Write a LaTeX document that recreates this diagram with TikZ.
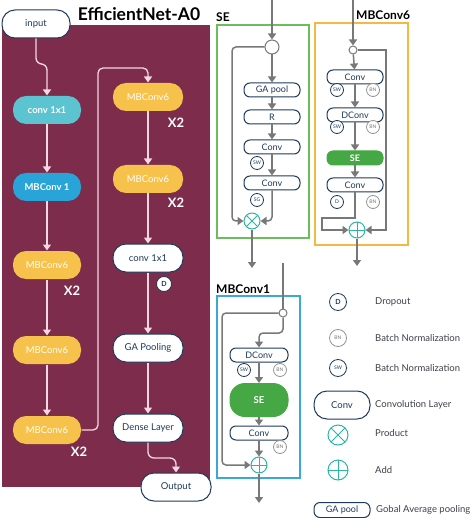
\documentclass[tikz,border=0pt]{standalone}
\usepackage{fontspec}
\setmainfont{Lato}
\usetikzlibrary{arrows.meta}

\definecolor{panelred}{HTML}{7E2C4B}
\definecolor{flowpink}{HTML}{F3D8E2}
\definecolor{navy}{HTML}{1E3A5C}
\definecolor{tealnode}{HTML}{5CC3D1}
\definecolor{bluenode}{HTML}{29A4D8}
\definecolor{yellownode}{HTML}{F6C24B}
\definecolor{segreen}{HTML}{45A845}
\definecolor{greenbox}{HTML}{6CBD5C}
\definecolor{orangebox}{HTML}{F5B840}
\definecolor{bluebox}{HTML}{3BA8D6}
\definecolor{lineg}{HTML}{787878}
\definecolor{opteal}{HTML}{2BB5A8}
\definecolor{legtext}{HTML}{3C3F4A}

\begin{document}
\begin{tikzpicture}[x=1pt, y=-1pt,
    blk/.style={draw=navy, fill=white, line width=1pt, rounded corners=13pt,
      minimum width=68pt, minimum height=28pt, inner sep=1pt,
      text=navy, font=\fontsize{9.5}{10}\selectfont},
    colblk/.style={blk, draw=none, text=white, font=\fontsize{9.5}{10}\selectfont\bfseries},
    sblk/.style={draw=navy, fill=white, line width=1pt, rounded corners=6pt,
      minimum width=56pt, minimum height=14pt, inner sep=0.5pt,
      text=navy, font=\fontsize{9}{9}\selectfont},
    tag/.style={circle, draw=navy, fill=white, line width=0.8pt, minimum size=13pt,
      inner sep=0pt, text=navy, font=\fontsize{5}{5}\selectfont},
    gtag/.style={tag, draw=lineg!80, text=lineg},
    prod/.style={circle, draw=opteal, fill=white, line width=1pt, minimum size=16pt, inner sep=0pt,
      path picture={\draw[opteal, line width=1pt]
        (path picture bounding box.south west) -- (path picture bounding box.north east)
        (path picture bounding box.north west) -- (path picture bounding box.south east);}},
    add/.style={circle, draw=opteal, fill=white, line width=1pt, minimum size=16pt, inner sep=0pt,
      path picture={\draw[opteal, line width=1pt]
        (path picture bounding box.north) -- (path picture bounding box.south)
        (path picture bounding box.west) -- (path picture bounding box.east);}},
    split/.style={circle, draw=lineg, fill=white, line width=1pt, inner sep=0pt},
    flow/.style={flowpink, line width=1.3pt, -{Triangle[length=6pt,width=8pt]}},
    gline/.style={lineg, line width=1.5pt},
    garr/.style={gline, -{Triangle[length=6pt,width=8pt]}},
    xtwo/.style={text=white, font=\fontsize{13}{14}\selectfont\bfseries},
    blabel/.style={anchor=south west, inner sep=0pt, font=\fontsize{12}{13}\selectfont\bfseries},
    legend/.style={anchor=west, inner sep=0pt, text=legtext, font=\fontsize{9.5}{11}\selectfont}]

  \useasboundingbox (0,0) rectangle (474,518);

  % EfficientNet-A0
  \fill[panelred] (2,25) rectangle (210,487);
  \node[blk] (in) at (36,24) {input};
  \node[font=\fontsize{17.5}{19}\selectfont\bfseries] (title) at (139,14) {EfficientNet-A0};

  \node[colblk, fill=tealnode] (c1) at (47,110) {conv 1x1};
  \node[colblk, fill=bluenode] (mb1) at (47,187) {MBConv 1};
  \node[colblk, fill=yellownode, font=\fontsize{9.5}{10}\selectfont] (l1) at (47,265) {MBConv6};
  \node[colblk, fill=yellownode, font=\fontsize{9.5}{10}\selectfont] (l2) at (47,350) {MBConv6};
  \node[colblk, fill=yellownode, font=\fontsize{9.5}{10}\selectfont] (l3) at (47,430) {MBConv6};

  \node[colblk, fill=yellownode, minimum width=70pt, font=\fontsize{9.5}{10}\selectfont] (r1) at (148,97) {MBConv6};
  \node[colblk, fill=yellownode, minimum width=70pt, font=\fontsize{9.5}{10}\selectfont] (r2) at (148,179) {MBConv6};
  \node[blk, minimum width=70pt] (r3) at (148,258) {conv 1x1};
  \node[blk, minimum width=70pt] (r4) at (148,348) {GA Pooling};
  \node[blk, minimum width=70pt] (r5) at (148,428) {Dense Layer};
  \node[blk, minimum width=70pt] (out) at (176,487) {Output};
  \node[tag, minimum size=15pt, font=\fontsize{7}{7}\selectfont\bfseries] (r3d) at (164,284) {D};

  \node[xtwo] (x1) at (72,291) {X2};
  \node[xtwo] (x2) at (79,452) {X2};
  \node[xtwo] (x3) at (176,123) {X2};
  \node[xtwo] (x4) at (176,203) {X2};

  % fleches
  \draw[flow, rounded corners=6pt] (in.south) |- (47,64) -- (c1.north);
  \draw[flow] (c1) -- (mb1);
  \draw[flow] (mb1) -- (l1);
  \draw[flow] (l1) -- (l2);
  \draw[flow] (l2) -- (l3);
  \draw[flow, rounded corners=5pt] (l3.east) -| (98,68) -| (r1.north);
  \draw[flow] (r1) -- (r2);
  \draw[flow] (r2) -- (r3);
  \draw[flow] (r3) -- (r4);
  \draw[flow] (r4) -- (r5);
  \draw[flow, rounded corners=6pt] (r5.south) |- (176,458) -- (out.north);

  % SE
  \draw[greenbox, line width=1.2pt] (217,25) rectangle (309,238);
  \node[blabel] (se-lab) at (216,22) {SE};
  \coordinate (se-top) at (272,0);
  \node[split, minimum size=14pt] (se-split) at (272,47) {};
  \node[sblk] (se-ga) at (272,90) {GA pool};
  \node[sblk] (se-r) at (272,117) {R};
  \node[sblk] (se-c1) at (272,147) {Conv};
  \node[sblk] (se-c2) at (272,183) {Conv};
  \node[tag] (se-sw) at (257,163) {SW};
  \node[tag] (se-sg) at (257,200) {SG};
  \node[prod] (se-prod) at (252,221) {};
  \coordinate (se-out) at (252,268);

  \draw[garr] (se-top) -- (se-split.north);
  \draw[garr] (se-split) -- (se-ga);
  \draw[garr] (se-ga) -- (se-r);
  \draw[garr] (se-r) -- (se-c1);
  \draw[garr] (se-c1) -- (se-c2);
  \draw[garr, rounded corners=4pt] (se-split.west) -| (232,221) -- (se-prod.west);
  \draw[garr, rounded corners=4pt] (se-c2.south) |- (se-prod.east);
  \draw[garr] (se-prod.south) -- (se-out);

  % MBConv6
  \draw[orangebox, line width=1.2pt] (315,23) rectangle (408,245);
  \node[blabel] (m6-lab) at (356,20) {MBConv6};
  \coordinate (m6-top) at (353,0);
  \node[split, minimum size=8pt] (m6-split) at (353,50) {};
  \node[sblk] (m6-c1) at (355,77) {Conv};
  \node[tag] (m6-sw1) at (337,90) {SW};
  \node[gtag] (m6-bn1) at (373,90) {BN};
  \node[sblk] (m6-c2) at (355,115) {DConv};
  \node[tag] (m6-sw2) at (337,127) {SW};
  \node[gtag] (m6-bn2) at (373,127) {BN};
  \node[sblk, fill=segreen, draw=segreen, text=white, font=\fontsize{9}{9}\selectfont\bfseries] (m6-se) at (355,158) {SE};
  \node[sblk] (m6-c3) at (355,185) {Conv};
  \node[tag] (m6-d) at (337,202) {D};
  \node[gtag] (m6-bn3) at (373,202) {BN};
  \node[add] (m6-add) at (357,230) {};
  \coordinate (m6-out) at (357,266);

  \draw[garr] (m6-top) -- (m6-split.north);
  \draw[garr] (m6-split) -- (m6-c1);
  \draw[garr] (m6-c1) -- (m6-c2);
  \draw[garr] (m6-c2) -- (m6-se);
  \draw[garr] (m6-se) -- (m6-c3);
  \draw[garr] (m6-c3.south) |- (322,218) |- (m6-add.west);
  \draw[garr] (m6-split.east) -| (386,230) -- (m6-add.east);
  \draw[garr] (m6-add.south) -- (m6-out);

  % MBConv1
  \draw[bluebox, line width=1.2pt] (217,296) rectangle (300,478);
  \node[blabel] (m1-lab) at (216,294) {MBConv1};
  \coordinate (m1-top) at (283,263);
  \node[split, minimum size=8pt] (m1-split) at (283,313) {};
  \node[sblk, minimum width=58pt] (m1-dc) at (259,355) {DConv};
  \node[tag] (m1-sw) at (244,370) {SW};
  \node[gtag] (m1-bn1) at (280,370) {BN};
  \node[sblk, minimum width=58pt, minimum height=33pt, rounded corners=15pt, fill=segreen, draw=segreen,
    text=white, font=\fontsize{9.5}{10}\selectfont\bfseries] (m1-se) at (259,400) {SE};
  \node[sblk, minimum width=58pt] (m1-c) at (259,433) {Conv};
  \node[gtag] (m1-bn2) at (280,447) {BN};
  \node[add] (m1-add) at (259,465) {};
  \coordinate (m1-out) at (259,503);

  \draw[gline] (m1-top) -- (m1-split.north);
  \draw[garr, rounded corners=4pt] (m1-split.south) |- (259,333) -- (m1-dc.north);
  \draw[garr] (m1-dc) -- (m1-se);
  \draw[garr] (m1-se) -- (m1-c);
  \draw[garr] (m1-c) -- (m1-add);
  \draw[garr, rounded corners=4pt] (m1-split.west) -| (222,465) -- (m1-add.west);
  \draw[garr] (m1-add.south) -- (m1-out);

  % legende
  \node[tag, minimum size=17pt, font=\fontsize{7}{7}\selectfont\bfseries] (lg-d) at (338,302) {D};
  \node[gtag, minimum size=17pt] (lg-bn) at (338,338) {BN};
  \node[tag, minimum size=17pt] (lg-sw) at (338,368) {SW};
  \node[blk, minimum width=56pt] (lg-conv) at (342,405) {Conv};
  \node[prod, minimum size=20pt] (lg-prod) at (338,435) {};
  \node[add, minimum size=20pt] (lg-add) at (338,470) {};
  \node[sblk, minimum height=15pt] (lg-ga) at (342,510) {GA pool};

  \node[legend] (t-d) at (375,302) {Dropout};
  \node[legend] (t-bn) at (375,338) {Batch Normalization};
  \node[legend] (t-sw) at (375,368) {Batch Normalization};
  \node[legend] (t-conv) at (375,405) {Convolution Layer};
  \node[legend] (t-prod) at (375,433) {Product};
  \node[legend] (t-add) at (375,470) {Add};
  \node[legend] (t-ga) at (376,510) {Gobal Average pooling};

\end{tikzpicture}
\end{document}
